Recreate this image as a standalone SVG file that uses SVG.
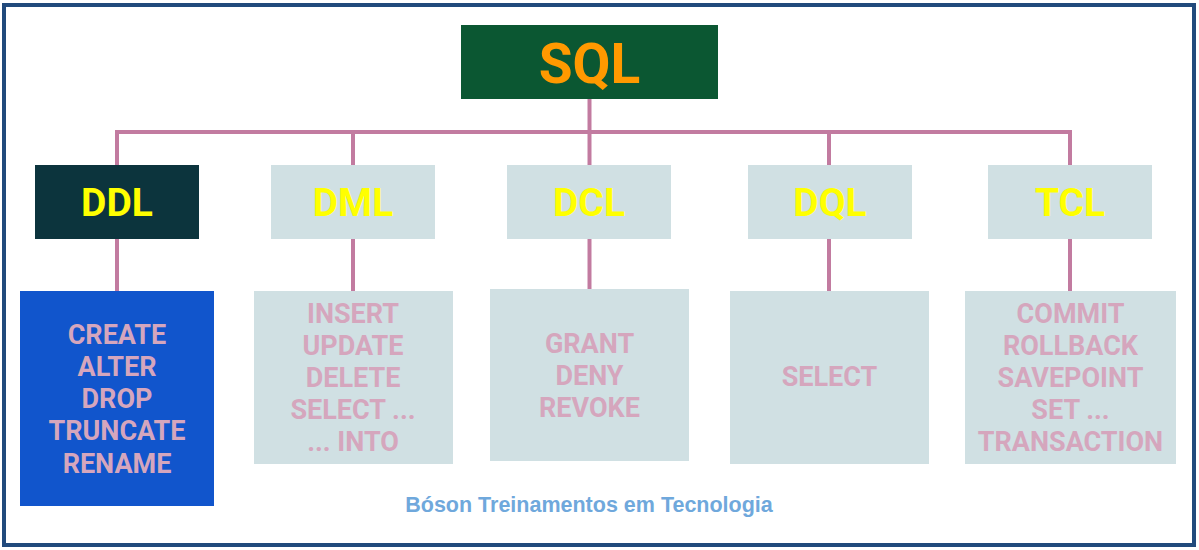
<svg xmlns="http://www.w3.org/2000/svg" width="1199" height="550" viewBox="0 0 1199 550">
<style>
.l2 { fill: #d0e0e3; }
.l2t { font-family: Roboto, "Liberation Sans", sans-serif; font-weight: bold; font-size: 39px; fill: #ffff00; text-anchor: middle; }
.l3 { fill: #d0e0e3; }
.l3t { font-family: Roboto, "Liberation Sans", sans-serif; font-weight: bold; font-size: 27px; fill: #d5a6bd; text-anchor: middle; }
.conn { fill: none; stroke: #c27ba0; stroke-width: 4; stroke-linejoin: miter; stroke-linecap: butt; }
</style>
<rect x="0" y="0" width="1199" height="550" fill="#ffffff"/>
<rect x="4" y="5" width="1190" height="540" fill="#ffffff" stroke="#214a7c" stroke-width="4"/>
<g id="connectors">
  <path class="conn" d="M117,165 V132 H1070 V165"/>
  <path class="conn" d="M589.5,99 V165"/>
  <path class="conn" d="M353,132 V165"/>
  <path class="conn" d="M829,132 V165"/>
  <path class="conn" d="M117,239 V291"/>
  <path class="conn" d="M353,239 V291"/>
  <path class="conn" d="M589.5,239 V289"/>
  <path class="conn" d="M829,239 V291"/>
  <path class="conn" d="M1070,239 V291"/>
</g>
<g id="sql">
  <rect x="461" y="25" width="257" height="74" fill="#0b5732"/>
  <text x="589.5" y="83" font-family="Roboto, 'Liberation Sans', sans-serif" font-weight="bold" font-size="55" fill="#ff9900" text-anchor="middle">SQL</text>
</g>
<g id="ddl">
  <rect x="35" y="165" width="164" height="74" fill="#0c343d"/>
  <text class="l2t" x="117" y="216">DDL</text>
</g>
<g id="dml">
  <rect class="l2" x="271" y="165" width="164" height="74"/>
  <text class="l2t" x="353" y="216">DML</text>
</g>
<g id="dcl">
  <rect class="l2" x="507" y="165" width="164" height="74"/>
  <text class="l2t" x="589" y="216">DCL</text>
</g>
<g id="dql">
  <rect class="l2" x="748" y="165" width="164" height="74"/>
  <text class="l2t" x="830" y="216">DQL</text>
</g>
<g id="tcl">
  <rect class="l2" x="988" y="165" width="164" height="74"/>
  <text class="l2t" x="1070" y="216">TCL</text>
</g>
<g id="ddl-cmds">
  <rect x="20" y="291" width="194" height="215" fill="#1155cc"/>
  <text class="l3t" x="117" y="344">CREATE</text>
  <text class="l3t" x="117" y="376">ALTER</text>
  <text class="l3t" x="117" y="408">DROP</text>
  <text class="l3t" x="117" y="440">TRUNCATE</text>
  <text class="l3t" x="117" y="473">RENAME</text>
</g>
<g id="dml-cmds">
  <rect class="l3" x="254" y="291" width="199" height="173"/>
  <text class="l3t" x="353" y="323">INSERT</text>
  <text class="l3t" x="353" y="355">UPDATE</text>
  <text class="l3t" x="353" y="387">DELETE</text>
  <text class="l3t" x="353" y="419">SELECT ...</text>
  <text class="l3t" x="353" y="451">... INTO</text>
</g>
<g id="dcl-cmds">
  <rect class="l3" x="490" y="289" width="199" height="172"/>
  <text class="l3t" x="589.5" y="353">GRANT</text>
  <text class="l3t" x="589.5" y="385">DENY</text>
  <text class="l3t" x="589.5" y="417">REVOKE</text>
</g>
<g id="dql-cmds">
  <rect class="l3" x="730" y="291" width="199" height="173"/>
  <text class="l3t" x="829.5" y="386">SELECT</text>
</g>
<g id="tcl-cmds">
  <rect class="l3" x="965" y="291" width="211" height="173"/>
  <text class="l3t" x="1070.5" y="323">COMMIT</text>
  <text class="l3t" x="1070.5" y="355">ROLLBACK</text>
  <text class="l3t" x="1070.5" y="387">SAVEPOINT</text>
  <text class="l3t" x="1070.5" y="419">SET ...</text>
  <text class="l3t" x="1070.5" y="451">TRANSACTION</text>
</g>
<g id="footer">
  <text x="589" y="512" font-family="'Liberation Sans', Arial, sans-serif" font-weight="bold" font-size="21.5" fill="#6fa8dc" text-anchor="middle">Bóson Treinamentos em Tecnologia</text>
</g>
</svg>
